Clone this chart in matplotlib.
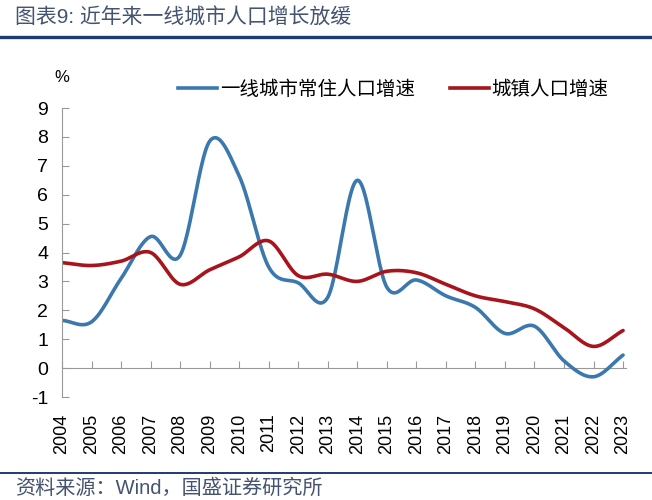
import numpy as np
import matplotlib.pyplot as plt
from matplotlib.lines import Line2D

plt.rcParams['font.family'] = ['Liberation Sans', 'Noto Sans CJK SC', 'DejaVu Sans']

years = list(range(2004, 2024))
tier1_growth = [1.65, 1.6, 3.1, 4.55, 3.9, 7.85, 6.65, 3.5, 2.95, 2.45, 6.5, 2.8,
                3.05, 2.5, 2.1, 1.2, 1.45, 0.25, -0.3, 0.45]
urban_growth = [3.65, 3.55, 3.7, 4.0, 2.9, 3.4, 3.85, 4.4, 3.2, 3.25, 3.0, 3.35,
                3.3, 2.9, 2.5, 2.3, 2.05, 1.4, 0.75, 1.3]
yticks = list(range(-1, 10))

title = '图表9: 近年来一线城市人口增长放缓'
source = '资料来源：Wind，国盛证券研究所'
name_tier1 = '一线城市常住人口增速'
name_urban = '城镇人口增速'

blue = '#3a78ad'
red = '#a8141c'
navy = '#1f3c70'


def smooth(x, y, n=24):
    # Excel-style smoothed line (uniform Catmull-Rom between the points)
    x = np.asarray(x, float)
    y = np.asarray(y, float)
    px = np.concatenate([[2 * x[0] - x[1]], x, [2 * x[-1] - x[-2]]])
    py = np.concatenate([[2 * y[0] - y[1]], y, [2 * y[-1] - y[-2]]])
    t = np.linspace(0, 1, n, endpoint=False)[:, None]
    xs, ys = [], []
    for i in range(1, len(px) - 2):
        for p, out in ((px, xs), (py, ys)):
            p0, p1, p2, p3 = p[i - 1], p[i], p[i + 1], p[i + 2]
            seg = 0.5 * ((2 * p1) + (-p0 + p2) * t + (2 * p0 - 5 * p1 + 4 * p2 - p3) * t ** 2
                         + (-p0 + 3 * p1 - 3 * p2 + p3) * t ** 3)
            out.append(seg.ravel())
    xs.append([x[-1]])
    ys.append([y[-1]])
    return np.concatenate(xs), np.concatenate(ys)


fig = plt.figure(figsize=(6.52, 5.0), dpi=100)
ax = fig.add_axes([62 / 652, 1 - 397 / 500, (626 - 62) / 652, (397 - 108) / 500])

sx, sy = smooth(years, tier1_growth)
ax.plot(sx, sy, color=blue, lw=2.6, solid_capstyle='round')
sx, sy = smooth(years, urban_growth)
ax.plot(sx, sy, color=red, lw=2.6, solid_capstyle='round')

ax.set_xlim(2004, 2023.1)
ax.set_ylim(-1, 9)
ax.set_yticks(yticks)
ax.set_yticklabels([str(v) for v in yticks], fontsize=14)
ax.tick_params(axis='y', direction='in', length=5, color='#999999', pad=10)
ax.set_xticks(years)
ax.set_xticklabels([str(v) for v in years], rotation=90, fontsize=13)
ax.tick_params(axis='x', length=0, pad=12)

for s in ['top', 'right', 'bottom']:
    ax.spines[s].set_visible(False)
ax.spines['left'].set_color('#999999')

# zero line with tick marks
sec = ax.secondary_xaxis(0.1)
sec.set_xticks(years)
sec.set_xticklabels([])
sec.tick_params(direction='in', length=5, color='#999999')
sec.spines['bottom'].set_color('#999999')

fig.text(62 / 652, 1 - 77 / 500, '%', fontsize=12, ha='center', va='center')

handles = [Line2D([], [], color=blue, lw=2.6), Line2D([], [], color=red, lw=2.6)]
fig.legend(handles, [name_tier1, name_urban], loc='center left',
           bbox_to_anchor=(178 / 652, 1 - 90 / 500), ncol=2, frameon=False,
           fontsize=14, handlelength=2.0, handletextpad=0.15, columnspacing=1.8,
           borderpad=0, borderaxespad=0)

fig.text(15 / 652, 1 - 18 / 500, title, fontsize=15, color='#44536f', va='center')
fig.add_artist(Line2D([0, 1], [1 - 37 / 500] * 2, color=navy, lw=2.4))
fig.add_artist(Line2D([0, 1], [1 - 473 / 500] * 2, color=navy, lw=1.4))
fig.text(15 / 652, 1 - 488 / 500, source, fontsize=14.5, color='#44536f', va='center')

fig.savefig('out.png', dpi=100)
